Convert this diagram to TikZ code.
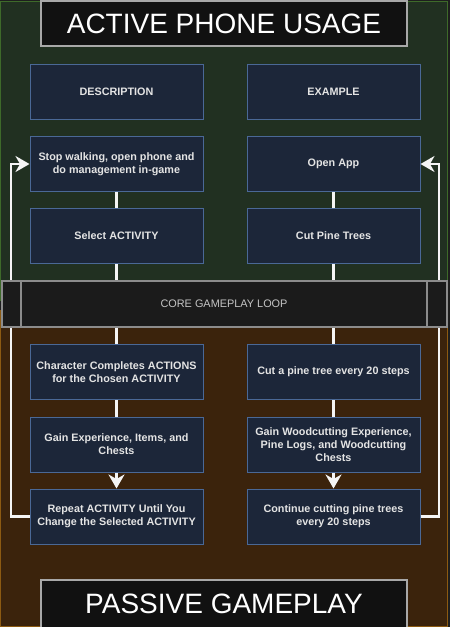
\documentclass[tikz,border=0pt]{standalone}
\usepackage{fontspec}
\setmainfont{Liberation Sans}
\usepackage{tikz}
\usetikzlibrary{arrows.meta}

\definecolor{pagebg}{HTML}{1E1E1E}
\definecolor{activebg}{HTML}{213021}
\definecolor{activeline}{HTML}{3E6A2A}
\definecolor{passivebg}{HTML}{3B230C}
\definecolor{passiveline}{HTML}{8C5A12}
\definecolor{boxfill}{HTML}{1C2639}
\definecolor{boxline}{HTML}{4A6896}
\definecolor{titlefill}{HTML}{111111}
\definecolor{titleline}{HTML}{A8A8A8}
\definecolor{corefill}{HTML}{1B1B1B}
\definecolor{coreline}{HTML}{8C8C8C}
\definecolor{boxtext}{HTML}{E4E4E4}
\definecolor{coretext}{HTML}{C4C4C4}

\tikzset{
	stepcell/.style={shape=rectangle, draw=boxline, fill=boxfill, line width=1pt,
		minimum width=173pt, minimum height=55pt, inner sep=0pt, align=center,
		text=boxtext, font=\fontsize{10.8}{13}\selectfont\bfseries},
	titlecell/.style={shape=rectangle, draw=titleline, fill=titlefill, line width=1.2pt,
		minimum width=366pt, inner sep=0pt, text=white, font=\fontsize{28}{30}\selectfont},
	corecell/.style={shape=rectangle, draw=coreline, fill=corefill, line width=2pt,
		minimum height=46pt, inner sep=0pt, text=coretext,
		font=\fontsize{10.9}{13}\selectfont},
	flowline/.style={draw=white!96!black, line width=2.3pt},
	flowarrow/.style={flowline, -{Stealth[length=14pt,width=16pt,inset=4.5pt]}}
}

\begin{document}
\begin{tikzpicture}[x=1pt, y=-1pt]
	
	\useasboundingbox (0,0) rectangle (450,627);
	\fill[pagebg] (0,0) rectangle (450,627);
	\filldraw[fill=activebg, draw=activeline, line width=1pt] (0.5,1) rectangle (447,300);
	\filldraw[fill=passivebg, draw=passiveline, line width=1pt] (0.5,310) rectangle (447,626);
	
	\node[titlecell, minimum height=45pt] (active) at (224, 23.5)  {ACTIVE PHONE USAGE};
	\node[titlecell, minimum height=48pt] (passive) at (224, 604)  {PASSIVE GAMEPLAY};
	
	\node[stepcell] (desc)    at (116.5, 91.5)  {DESCRIPTION};
	\node[stepcell] (exmp)    at (333.5, 91.5)  {EXAMPLE};
	\node[stepcell] (stop)    at (116.5, 164)   {Stop walking, open phone and\\do management in-game};
	\node[stepcell] (openapp) at (333.5, 164)   {Open App};
	\node[stepcell] (select)  at (116.5, 236)   {Select ACTIVITY};
	\node[stepcell] (cutpine) at (333.5, 236)   {Cut Pine Trees};
	\node[stepcell] (actions) at (116.5, 372)   {Character Completes ACTIONS\\for the Chosen ACTIVITY};
	\node[stepcell] (cutstep) at (333.5, 372)   {Cut a pine tree every 20 steps};
	\node[stepcell] (gain)    at (116.5, 444.5) {Gain Experience, Items, and\\Chests};
	\node[stepcell] (gainwood) at (333.5, 444.5) {Gain Woodcutting Experience,\\Pine Logs, and Woodcutting\\Chests};
	\node[stepcell] (repeat)  at (116.5, 516.5) {Repeat ACTIVITY Until You\\Change the Selected ACTIVITY};
	\node[stepcell] (contin)  at (333.5, 516.5) {Continue cutting pine trees\\every 20 steps};
	
	% loops back up, behind the core bar
	\draw[flowarrow] (repeat.west) -- ++(-18.5,0) |- (stop.west);
	\draw[flowarrow] (contin.east) -- ++(18.5,0) |- (openapp.east);
	
	\node[corecell, minimum width=19pt]  (coreL) at (11.5, 304) {};
	\node[corecell, minimum width=406pt] (core)  at (224, 304)  {CORE GAMEPLAY LOOP};
	\node[corecell, minimum width=20pt]  (coreR) at (437, 304)  {};
	
	\draw[flowline] (stop) -- (select);
	\draw[flowline] (select.south) -- (select.south |- core.north);
	\draw[flowline] (actions.north |- core.south) -- (actions.north);
	\draw[flowline] (actions) -- (gain);
	\draw[flowarrow] (gain) -- (repeat);
	
	\draw[flowline] (openapp) -- (cutpine);
	\draw[flowline] (cutpine.south) -- (cutpine.south |- core.north);
	\draw[flowline] (cutstep.north |- core.south) -- (cutstep.north);
	\draw[flowline] (cutstep) -- (gainwood);
	\draw[flowarrow] (gainwood) -- (contin);
	
\end{tikzpicture}
\end{document}
